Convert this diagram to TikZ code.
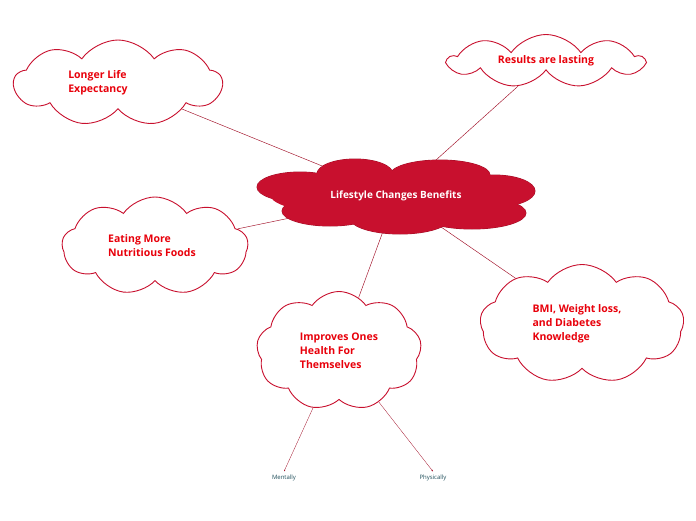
\documentclass[tikz,border=0pt]{standalone}
\usepackage{fontspec}
\setmainfont{Open Sans}
\usetikzlibrary{shapes.symbols,shapes.geometric,arrows.meta}
\definecolor{crim}{HTML}{C8102E}
\definecolor{txtred}{HTML}{E8000B}
\definecolor{teal2}{HTML}{1F4E5A}
\tikzset{
 cl/.style={cloud, cloud puffs=9, cloud puff arc=110, cloud ignores aspect, draw=crim, fill=white, line width=0.9pt, align=left, font=\bfseries\fontsize{10.5}{14}\selectfont, text=txtred, inner sep=0pt},
 lnk/.style={draw=crim!80!black, line width=0.45pt},
 sub/.style={font=\fontsize{6}{7}\selectfont, text=teal2},
 puff/.style={crim}
}
\begin{document}
\begin{tikzpicture}[x=1pt,y=-1pt]
\useasboundingbox (0,0) rectangle (696,520);
\node[ellipse, minimum width=260, minimum height=66, inner sep=0pt] (c) at (396,196) {};
\node[cl, minimum width=208, minimum height=86] (a) at (118,83) {Longer Life\hspace*{40pt}\\Expectancy\hspace*{40pt}};
\node[cl, minimum width=195, minimum height=53] (r) at (546,61) {Results are lasting};
\node[cl, minimum width=186, minimum height=98] (e) at (155,246) {Eating More\\Nutritious Foods\hspace*{6pt}};
\node[cl, minimum width=204, minimum height=119] (b) at (582,324) {BMI, Weight loss,\hspace*{10pt}\\and Diabetes\\Knowledge};
\node[cl, minimum width=165, minimum height=119] (i) at (339,351) {Improves Ones\\Health For\\Themselves};
\node[sub] (m) at (284,478) {Mentally};
\node[sub] (p) at (433,478) {Physically};
\draw[lnk] (c) -- (a);
\draw[lnk] (c) -- (r);
\draw[lnk] (c) -- (e);
\draw[lnk] (c) -- (i);
\draw[lnk] (c) -- (b);
\draw[lnk, line width=0.3pt, -{Stealth[length=2pt]}] (i) -- (m.north);
\draw[lnk, line width=0.3pt, -{Stealth[length=2pt]}] (i) -- (p.north);
\foreach \x/\y/\rx/\ry in {300/187/43/15, 355/174/38/15, 440/175/50/15, 494/191/41/16, 472/213/54/16, 400/218/50/16, 330/211/48/15}
  \draw[crim!80!black, line width=0.9pt] (\x,\y) ellipse[x radius=\rx, y radius=\ry];
\foreach \x/\y/\rx/\ry in {300/187/43/15, 355/174/38/15, 440/175/50/15, 494/191/41/16, 472/213/54/16, 400/218/50/16, 330/211/48/15, 396/196/125/22}
  \fill[crim] (\x,\y) ellipse[x radius=\rx, y radius=\ry];
\node[font=\bfseries\fontsize{10}{13}\selectfont, text=white] (ct) at (c.center) {Lifestyle Changes Benefits};
\end{tikzpicture}
\end{document}
